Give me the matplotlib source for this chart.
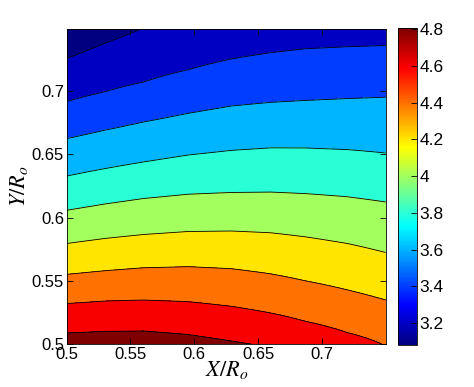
import numpy as np
import matplotlib

matplotlib.use("Agg")
import matplotlib.pyplot as plt  # noqa: E402
from matplotlib import cm, colors  # noqa: E402

plt.rcParams.update({
    "font.family": ["Liberation Sans", "DejaVu Sans"],
    "font.size": 12,
    "mathtext.fontset": "stix",
})

# contour levels (3.0 and 5.0 sit just outside the frame, to close the field)
level_vals = [3.0, 3.2, 3.4, 3.6, 3.8, 4.0, 4.2, 4.4, 4.6, 4.8, 5.0]

# x positions where the contour crossings were read
x_cols = [0.50, 0.53, 0.56, 0.595, 0.629, 0.66, 0.687, 0.72, 0.75]

# y of each contour line at those x columns (one list per level)
y_l30 = [0.763, 0.778, 0.793, 0.805, 0.815, 0.819, 0.822, 0.824, 0.825]
y_l32 = [0.7259, 0.738, 0.750, 0.761, 0.770, 0.775, 0.778, 0.779, 0.780]
y_l34 = [0.6919, 0.6996, 0.7072, 0.7170, 0.7255, 0.7305, 0.7336, 0.7352, 0.7362]
y_l36 = [0.6625, 0.6692, 0.6756, 0.6825, 0.6883, 0.6912, 0.6927, 0.6942, 0.6953]
y_l38 = [0.6329, 0.6388, 0.6440, 0.6495, 0.6532, 0.6552, 0.6551, 0.6538, 0.6511]
y_l40 = [0.6058, 0.6108, 0.6151, 0.6185, 0.6199, 0.6202, 0.6190, 0.6165, 0.6124]
y_l42 = [0.5795, 0.5835, 0.5866, 0.5890, 0.5894, 0.5880, 0.5848, 0.5795, 0.5724]
y_l44 = [0.5551, 0.5580, 0.5603, 0.5612, 0.5596, 0.5555, 0.5500, 0.5428, 0.5348]
y_l46 = [0.5320, 0.5340, 0.5348, 0.5335, 0.5298, 0.5245, 0.5180, 0.5090, 0.4985]
y_l48 = [0.5087, 0.5100, 0.5103, 0.5075, 0.5024, 0.4975, 0.4917, 0.4835, 0.4750]
y_l50 = [0.486, 0.487, 0.486, 0.481, 0.475, 0.469, 0.462, 0.452, 0.440]

cbar_ticks = [3.2, 3.4, 3.6, 3.8, 4.0, 4.2, 4.4, 4.6, 4.8]
axis_ticks = [0.5, 0.55, 0.6, 0.65, 0.7]
CMIN, CMAX = 3.08, 4.805

crossings = np.array([y_l30, y_l32, y_l34, y_l36, y_l38, y_l40,
                      y_l42, y_l44, y_l46, y_l48, y_l50])
lv = np.array(level_vals)

# value field: per column, level as a function of y from the read crossings
y_grid = np.linspace(0.5, 0.75, 251)
Z = np.empty((len(y_grid), len(x_cols)))
for j in range(len(x_cols)):
    ys = crossings[::-1, j]
    Z[:, j] = np.interp(y_grid, ys, lv[::-1])
X, Y = np.meshgrid(x_cols, y_grid)

# MATLAB's jet (matplotlib's own jet is shifted a little)
matlab_jet = colors.LinearSegmentedColormap("matlab_jet", {
    "red": [(0, 0, 0), (0.375, 0, 0), (0.625, 1, 1), (0.875, 1, 1), (1, 0.5, 0.5)],
    "green": [(0, 0, 0), (0.125, 0, 0), (0.375, 1, 1), (0.625, 1, 1),
              (0.875, 0, 0), (1, 0, 0)],
    "blue": [(0, 0.5, 0.5), (0.125, 1, 1), (0.375, 1, 1), (0.625, 0, 0), (1, 0, 0)],
}, N=256)

# MATLAB-style fills: each band takes the colour of its lower level
norm = colors.Normalize(vmin=CMIN, vmax=CMAX, clip=True)
band_colors = [matlab_jet(norm(v)) for v in level_vals[:-1]]

fig = plt.figure(figsize=(4.74, 3.87), dpi=100)
ax = fig.add_axes([0.1407, 0.1111, 0.673, 0.8132])
cax = fig.add_axes([0.8403, 0.1085, 0.0388, 0.8183])

ax.contourf(X, Y, Z, levels=level_vals, colors=band_colors)
ax.contour(X, Y, Z, levels=level_vals[1:-1], colors="k", linewidths=0.6)

ax.set_xlim(0.5, 0.75)
ax.set_ylim(0.5, 0.749)
ax.set_xticks(axis_ticks)
ax.set_yticks(axis_ticks)
ax.set_xticklabels(["0.5", "0.55", "0.6", "0.65", "0.7"])
ax.set_yticklabels(["0.5", "0.55", "0.6", "0.65", "0.7"])
ax.tick_params(direction="in", top=True, right=True, length=4, width=0.6, pad=2)
for s in ax.spines.values():
    s.set_linewidth(0.6)
ax.set_xlabel("$X/R_o$", fontsize=16, labelpad=-2)
ax.set_ylabel("$Y/R_o$", fontsize=16, labelpad=1)

sm = cm.ScalarMappable(norm=colors.Normalize(vmin=CMIN, vmax=CMAX), cmap=matlab_jet)
cb = fig.colorbar(sm, cax=cax, ticks=cbar_ticks)
cb.ax.set_yticklabels(["3.2", "3.4", "3.6", "3.8", "4", "4.2", "4.4", "4.6", "4.8"])
cb.ax.tick_params(direction="in", length=4, width=0.6, pad=2, labelsize=12.5)
cb.outline.set_linewidth(0.6)

fig.savefig("out.png", dpi=100)
